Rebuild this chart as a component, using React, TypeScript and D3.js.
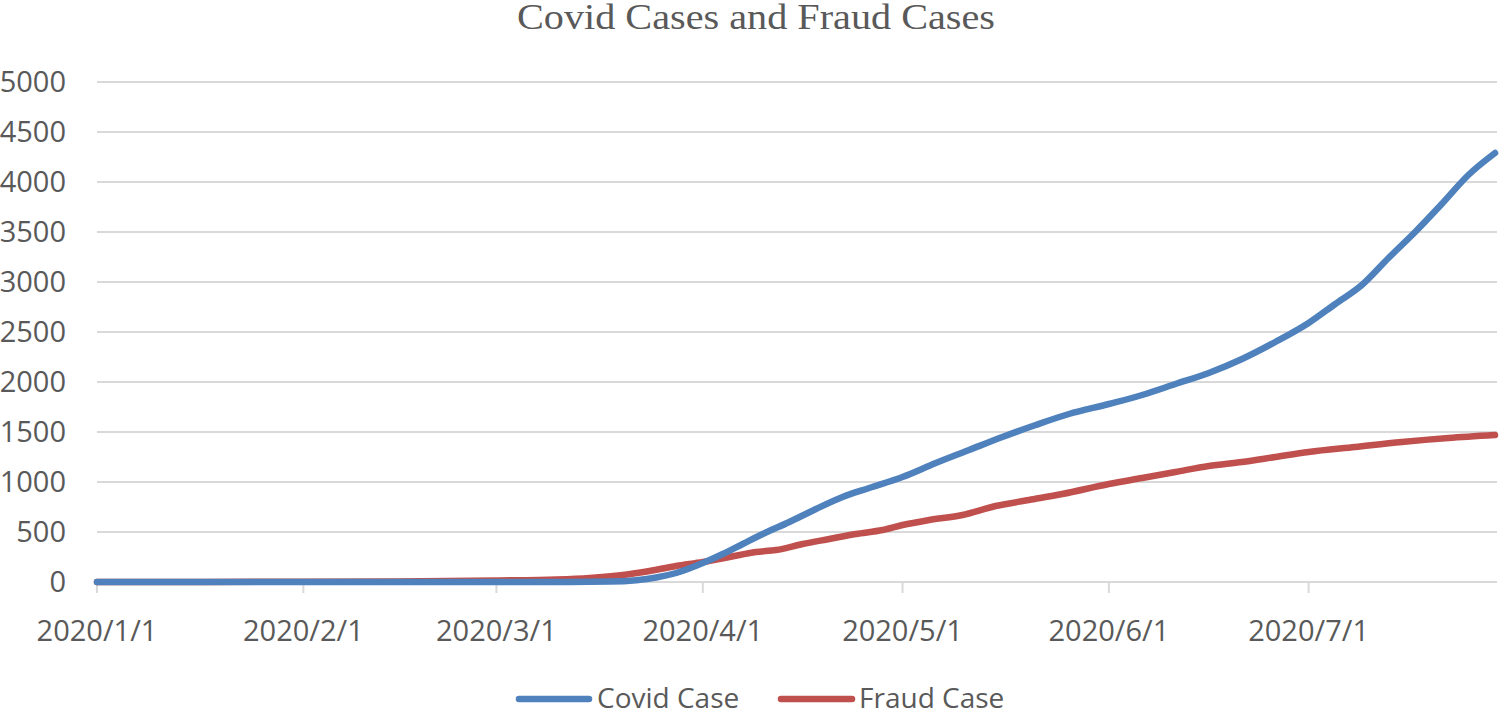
import React from "react";
import * as d3 from "d3";

const covidDates = ["2020-01-01","2020-02-01","2020-03-01","2020-03-12","2020-03-18","2020-03-22","2020-03-25","2020-03-28","2020-04-01","2020-04-04","2020-04-07","2020-04-10","2020-04-14","2020-04-18","2020-04-22","2020-04-26","2020-05-01","2020-05-06","2020-05-11","2020-05-16","2020-05-21","2020-05-26","2020-06-01","2020-06-06","2020-06-11","2020-06-16","2020-06-21","2020-06-26","2020-07-01","2020-07-05","2020-07-09","2020-07-13","2020-07-17","2020-07-21","2020-07-25","2020-07-29"];
const covidValues = [0,0,0,1,4,18,45,90,190,280,380,480,600,730,850,940,1050,1190,1320,1450,1570,1680,1780,1870,1980,2090,2230,2400,2590,2780,2970,3240,3500,3780,4070,4290];

const fraudDates = ["2020-01-01","2020-02-01","2020-02-15","2020-03-01","2020-03-10","2020-03-15","2020-03-20","2020-03-24","2020-03-28","2020-04-01","2020-04-05","2020-04-09","2020-04-12","2020-04-16","2020-04-20","2020-04-24","2020-04-28","2020-05-01","2020-05-05","2020-05-10","2020-05-15","2020-05-20","2020-05-25","2020-06-01","2020-06-06","2020-06-11","2020-06-16","2020-06-21","2020-06-26","2020-07-01","2020-07-08","2020-07-15","2020-07-22","2020-07-29"];
const fraudValues = [0,2,5,15,25,40,70,110,160,200,250,300,320,380,430,480,520,570,620,670,760,820,880,980,1040,1100,1160,1200,1250,1300,1350,1400,1440,1470];

const yTicks = [0,500,1000,1500,2000,2500,3000,3500,4000,4500,5000];
const xTickLabels = ["2020/1/1","2020/2/1","2020/3/1","2020/4/1","2020/5/1","2020/6/1","2020/7/1"];
const seriesNames = ["Covid Case","Fraud Case"];
const title = "Covid Cases and Fraud Cases";

const parse = d3.utcParse("%Y-%m-%d");
const parseTick = d3.utcParse("%Y/%m/%d");

export default function App() {
  const W = 1499, H = 708;
  const x = d3.scaleUtc().domain([parse("2020-01-01")!, parse("2020-07-29")!]).range([97, 1495]);
  const y = d3.scaleLinear().domain([0, 5000]).range([582, 82]);
  const line = d3.line<[Date, number]>().x(d => x(d[0])).y(d => y(d[1])).curve(d3.curveMonotoneX);
  const covid: [Date, number][] = covidDates.map((d, i) => [parse(d)!, covidValues[i]]);
  const fraud: [Date, number][] = fraudDates.map((d, i) => [parse(d)!, fraudValues[i]]);
  const gridColor = "#d9d9d9";
  const txt = "#595959";
  const font = "'Open Sans', sans-serif";
  return (
    <svg width={W} height={H} style={{ position: "absolute", left: 0, top: 0, background: "#fff" }}>
      <text x={756} y={29} textAnchor="middle" fontFamily="'Liberation Serif', 'Times New Roman', serif" fontSize={36} textLength={478} lengthAdjust="spacingAndGlyphs" fill={txt}>{title}</text>
      {yTicks.map(t => (
        <g key={t}>
          <line x1={97} x2={1497} y1={y(t)} y2={y(t)} stroke={gridColor} strokeWidth={2} />
          <text x={66} y={y(t)} dy="0.36em" textAnchor="end" fontFamily={font} fontSize={29} fill={txt}>{t}</text>
        </g>
      ))}
      {xTickLabels.map(l => {
        const d = parseTick(l)!;
        return (
          <g key={l}>
            <line x1={x(d)} x2={x(d)} y1={582} y2={593} stroke={gridColor} strokeWidth={2} />
            <text x={x(d)} y={641} textAnchor="middle" fontFamily={font} fontSize={29} fill={txt}>{l}</text>
          </g>
        );
      })}
      <path d={line(fraud) || ""} fill="none" stroke="#c0504d" strokeWidth={6.5} strokeLinecap="round" strokeLinejoin="round" />
      <path d={line(covid) || ""} fill="none" stroke="#4f81bd" strokeWidth={6.5} strokeLinecap="round" strokeLinejoin="round" />
      <g>
        <line x1={519} x2={589} y1={699} y2={699} stroke="#4f81bd" strokeWidth={6.5} strokeLinecap="round" />
        <text x={597} y={708} fontFamily={font} fontSize={28} fill={txt}>{seriesNames[0]}</text>
        <line x1={781} x2={852} y1={699} y2={699} stroke="#c0504d" strokeWidth={6.5} strokeLinecap="round" />
        <text x={859} y={708} fontFamily={font} fontSize={28} fill={txt}>{seriesNames[1]}</text>
      </g>
    </svg>
  );
}
